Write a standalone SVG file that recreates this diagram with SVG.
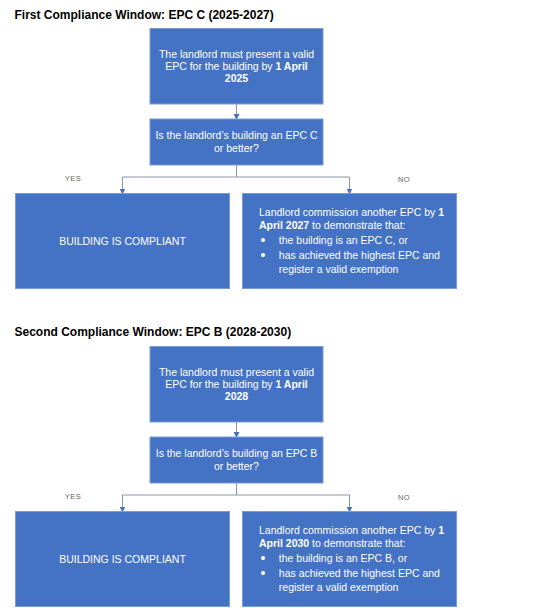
<svg xmlns="http://www.w3.org/2000/svg" width="543" height="608" viewBox="0 0 543 608">
<defs>
<marker id="arr" markerWidth="6" markerHeight="6" refX="5" refY="3" orient="auto" markerUnits="userSpaceOnUse">
<path d="M0,0 L6,3 L0,6 Z" fill="#4472C4"/>
</marker>
<style>
.title{font-family:"Liberation Sans",Arial,sans-serif;font-size:12px;font-weight:bold;fill:#000}
.box{fill:#4472C4;stroke:#7B9BD6;stroke-width:1}
.t{font-family:"Liberation Sans",Arial,sans-serif;font-size:10.5px;fill:#fff}
.c{text-anchor:middle}
.b{font-weight:bold}
.bul{font-family:"Liberation Sans",Arial,sans-serif;font-size:14px;fill:#fff}
.lbl{font-family:"Liberation Sans",Arial,sans-serif;font-size:7.5px;fill:#666;text-anchor:middle;letter-spacing:0.5px}
.con{fill:none;stroke:#8C96A8;stroke-width:1}
.arr{fill:none;stroke:#8C96A8;stroke-width:1;marker-end:url(#arr)}
</style>
</defs>
<rect width="543" height="608" fill="#fff"/>

<g id="section1">
<text id="title1" class="title" x="14.5" y="19">First Compliance Window: EPC C (2025-2027)</text>
<g id="connectors1">
<path class="arr" d="M236.5,104 V119"/>
<path class="con" d="M236.5,165 V177 M122.5,177 H349.5"/>
<path class="arr" d="M122.5,177 V193.5"/>
<path class="arr" d="M349.5,177 V193.5"/>
</g>
<g id="start1">
<rect class="box" x="150" y="28.5" width="173" height="75.5"/>
<text class="t c" x="236.5" y="58">The landlord must present a valid</text>
<text class="t c" x="236.5" y="69.7">EPC for the building by <tspan class="b">1 April</tspan></text>
<text class="t c b" x="236.5" y="81.7">2025</text>
</g>
<g id="decision1">
<rect class="box" x="150" y="119" width="173" height="46"/>
<text class="t c" x="236.5" y="139">Is the landlord’s building an EPC C</text>
<text class="t c" x="236.5" y="152">or better?</text>
</g>
<text id="yes1" class="lbl" x="73" y="180.5">YES</text>
<text id="no1" class="lbl" x="404" y="181.5">NO</text>
<g id="compliant1">
<rect class="box" x="15.5" y="193.5" width="214" height="95"/>
<text class="t c" x="122.5" y="245">BUILDING IS COMPLIANT</text>
</g>
<g id="commission1">
<rect class="box" x="242.5" y="193.5" width="214" height="95"/>
<text class="t" x="259" y="216">Landlord commission another EPC by <tspan class="b">1</tspan></text>
<text class="t" x="259" y="229"><tspan class="b">April 2027</tspan> to demonstrate that:</text>
<text class="bul" x="260.5" y="244.5">•</text>
<text class="t" x="278.8" y="243.7">the building is an EPC C, or</text>
<text class="bul" x="260.5" y="260">•</text>
<text class="t" x="278.8" y="259.3">has achieved the highest EPC and</text>
<text class="t" x="278.8" y="273.2">register a valid exemption</text>
</g>
</g>

<g id="section2" transform="translate(0,318)">
<text id="title2" class="title" x="14.5" y="18">Second Compliance Window: EPC B (2028-2030)</text>
<g id="connectors2">
<path class="arr" d="M236.5,104 V119"/>
<path class="con" d="M236.5,165 V177 M122.5,177 H349.5"/>
<path class="arr" d="M122.5,177 V193.5"/>
<path class="arr" d="M349.5,177 V193.5"/>
</g>
<g id="start2">
<rect class="box" x="150" y="28.5" width="173" height="75.5"/>
<text class="t c" x="236.5" y="58">The landlord must present a valid</text>
<text class="t c" x="236.5" y="69.7">EPC for the building by <tspan class="b">1 April</tspan></text>
<text class="t c b" x="236.5" y="81.7">2028</text>
</g>
<g id="decision2">
<rect class="box" x="150" y="119" width="173" height="46"/>
<text class="t c" x="236.5" y="139">Is the landlord’s building an EPC B</text>
<text class="t c" x="236.5" y="152">or better?</text>
</g>
<text id="yes2" class="lbl" x="73" y="180.5">YES</text>
<text id="no2" class="lbl" x="404" y="181.5">NO</text>
<g id="compliant2">
<rect class="box" x="15.5" y="193.5" width="214" height="95"/>
<text class="t c" x="122.5" y="245">BUILDING IS COMPLIANT</text>
</g>
<g id="commission2">
<rect class="box" x="242.5" y="193.5" width="214" height="95"/>
<text class="t" x="259" y="216">Landlord commission another EPC by <tspan class="b">1</tspan></text>
<text class="t" x="259" y="229"><tspan class="b">April 2030</tspan> to demonstrate that:</text>
<text class="bul" x="260.5" y="244.5">•</text>
<text class="t" x="278.8" y="243.7">the building is an EPC B, or</text>
<text class="bul" x="260.5" y="260">•</text>
<text class="t" x="278.8" y="259.3">has achieved the highest EPC and</text>
<text class="t" x="278.8" y="273.2">register a valid exemption</text>
</g>
</g>
</svg>
